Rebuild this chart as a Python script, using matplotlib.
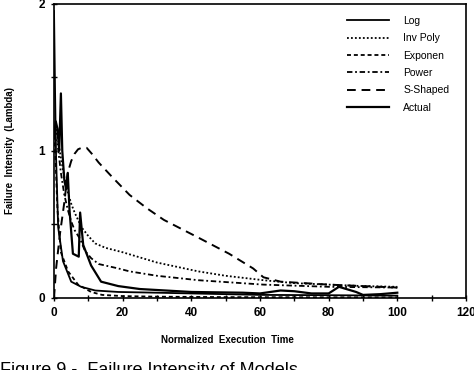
import numpy as np
import matplotlib
matplotlib.use("Agg")
import matplotlib.pyplot as plt
from matplotlib.ticker import MultipleLocator

plt.rcParams['font.family'] = ['Liberation Sans', 'DejaVu Sans']

# model curves
log_x = [0, 0.3, 0.6, 1.2, 2.6, 5.0, 7.9, 12, 18.7, 30, 40, 60, 80, 100]
log_y = [1.95, 1.4, 0.95, 0.48, 0.25, 0.11, 0.075, 0.05, 0.04, 0.035, 0.03, 0.02, 0.018, 0.015]

inv_x = [0, 0.5, 1, 2, 3, 4, 5, 6, 7, 8, 10, 12, 15, 20, 30, 42, 50, 61, 70, 80, 90, 100]
inv_y = [1.1, 1.15, 1.1, 0.95, 0.82, 0.72, 0.64, 0.58, 0.53, 0.48, 0.42, 0.37, 0.34, 0.31, 0.24,
         0.18, 0.15, 0.12, 0.1, 0.09, 0.08, 0.075]

exp_x = [0, 0.5, 1, 2, 4.1, 7, 10.8, 14, 20, 30, 50, 70, 100]
exp_y = [1.15, 0.9, 0.6, 0.31, 0.18, 0.09, 0.04, 0.02, 0.012, 0.008, 0.005, 0.004, 0.003]

pow_x = [0, 1, 2, 3, 4, 5, 6, 7.6, 9, 10.8, 13, 18.7, 22, 30, 42, 61, 80, 100]
pow_y = [1.1, 1.05, 0.85, 0.7, 0.6, 0.52, 0.46, 0.4, 0.32, 0.27, 0.23, 0.2, 0.18, 0.15, 0.12,
         0.09, 0.075, 0.07]

s_x = [0, 0.6, 1.7, 3, 4, 5, 6, 7, 8, 9.5, 11, 13, 17, 22, 27, 32, 42, 51, 58, 61, 66, 80, 90, 100]
s_y = [0, 0.2, 0.43, 0.65, 0.85, 0.93, 0.98, 1.01, 1.02, 1.02, 0.98, 0.92, 0.82, 0.7, 0.61, 0.53,
       0.41, 0.3, 0.2, 0.14, 0.11, 0.09, 0.08, 0.07]

act_x = [0, 0.5, 1.0, 1.5, 2.0, 2.4, 3.0, 3.5, 4.0, 4.5, 5.5, 7.2, 7.6, 8.5, 10.8, 13.7, 18.7,
         25, 40, 55, 60, 63, 66, 70, 75, 80, 83, 88, 90, 95, 100]
act_y = [1.1, 1.2, 1.15, 1.0, 1.39, 1.0, 0.8, 0.74, 0.85, 0.6, 0.3, 0.28, 0.58, 0.36, 0.22, 0.11,
         0.08, 0.06, 0.04, 0.035, 0.03, 0.04, 0.05, 0.045, 0.03, 0.03, 0.075, 0.04, 0.02, 0.025, 0.035]

fig = plt.figure(figsize=(4.74, 3.70), dpi=100)
ax = fig.add_axes([0.114, 0.195, 0.869, 0.795])

ax.plot(log_x, log_y, color='black', lw=1.3, ls='-', label='Log')
ax.plot(inv_x, inv_y, color='black', lw=1.3, ls=(0, (1, 1.2)), label='Inv Poly')
ax.plot(exp_x, exp_y, color='black', lw=1.3, ls=(0, (2.2, 1.6)), label='Exponen')
ax.plot(pow_x, pow_y, color='black', lw=1.3, ls=(0, (3, 1.5, 1, 1.5)), label='Power')
ax.plot(s_x, s_y, color='black', lw=1.4, ls=(0, (4.5, 3)), label='S-Shaped')
ax.plot(act_x, act_y, color='black', lw=1.6, ls='-', label='Actual')

ax.set_xlim(0, 120)
ax.set_ylim(0, 2)
ax.xaxis.set_major_locator(MultipleLocator(20))
ax.xaxis.set_minor_locator(MultipleLocator(10))
ax.yaxis.set_major_locator(MultipleLocator(1))
ax.yaxis.set_minor_locator(MultipleLocator(0.5))
ax.tick_params(which='both', direction='inout', length=5, width=1, labelsize=8.5, pad=4)
for lab in ax.get_xticklabels() + ax.get_yticklabels():
    lab.set_fontweight('bold')
for s in ax.spines.values():
    s.set_linewidth(1.2)

ax.set_ylabel('Failure  Intensity  (Lambda)', fontsize=7, fontweight='bold', labelpad=17)
fig.text(0.479, 0.081, 'Normalized  Execution  Time', fontsize=7, fontweight='bold',
         ha='center', va='center')
fig.text(0.0, 0.022, 'Figure 9 -  Failure Intensity of Models', fontsize=13, ha='left', va='top')

ax.legend(loc='upper left', bbox_to_anchor=(0.711, 0.958), frameon=False, fontsize=7.5,
          handlelength=4.0, handletextpad=1.4, labelspacing=0.7, borderpad=0, borderaxespad=0)

fig.savefig('out.png', dpi=100)
